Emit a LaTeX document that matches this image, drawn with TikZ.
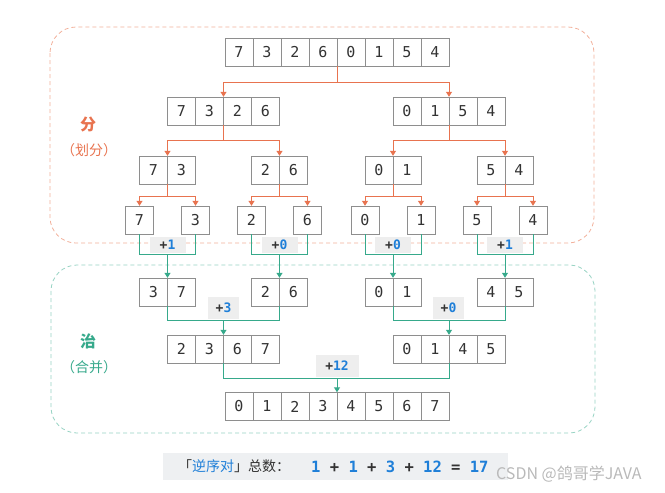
\documentclass[tikz,border=0pt]{standalone}
\usepackage{fontspec}
\setmonofont{DejaVu Sans Mono}
\newfontfamily\cjk{Noto Sans CJK SC}
\usetikzlibrary{arrows.meta,calc}
\definecolor{orgline}{HTML}{E8734F}
\definecolor{orgbox}{HTML}{F2B09A}
\definecolor{grnline}{HTML}{36A98B}
\definecolor{grnbox}{HTML}{97D3C3}
\definecolor{cellgray}{HTML}{8E8E8E}
\definecolor{numblue}{HTML}{1F7FD8}
\definecolor{labelbg}{HTML}{EEEEEE}
\definecolor{sumbg}{HTML}{EEF0F2}
\definecolor{txtdark}{HTML}{333333}
\tikzset{
  cell/.style={draw=cellgray, line width=0.9pt, fill=white, minimum width=28pt, minimum height=28pt, inner sep=0pt, font=\fontsize{15}{15}\selectfont\ttfamily, text=txtdark},
  outline/.style={inner sep=0pt, minimum height=28pt},
  sp/.style={draw=orgline, line width=1pt},
  spa/.style={sp, -{Triangle[length=5pt,width=6pt]}},
  mg/.style={draw=grnline, line width=1pt},
  mga/.style={mg, -{Triangle[length=5pt,width=6pt]}},
  cnt/.style={fill=labelbg, inner sep=0pt, minimum width=36pt, minimum height=16pt, font=\fontsize{13}{13}\selectfont\ttfamily\bfseries, text=txtdark},
  region/.style={dash pattern=on 4pt off 3pt, line width=0.8pt, rounded corners=26pt},
}
\newcommand\myarr[5]{%
  \node[outline, minimum width=#4*28pt] (#1) at (#2,#3) {};
  \foreach \d [count=\i] in {#5} {
    \node[cell] (#1-\i) at ({#2+(\i-0.5-#4/2)*28},#3) {\d};
  }%
}
\begin{document}
\begin{tikzpicture}[x=1pt,y=-1pt]
\useasboundingbox (0,0) rectangle (665,493);
% regions
\draw[region, draw=orgbox] (50,27) rectangle (594,243);
\draw[region, draw=grnbox] (51,265) rectangle (595,433);
% labels left
\node[text=orgline, font=\cjk\bfseries\fontsize{16}{16}\selectfont] (fen) at (88,124) {分};
\node[text=orgline, font=\cjk\fontsize{14}{14}\selectfont] (huafen) at (89,150) {（划分）};
\node[text=grnline, font=\cjk\bfseries\fontsize{16}{16}\selectfont] (zhi) at (88,341) {治};
\node[text=grnline, font=\cjk\fontsize{14}{14}\selectfont] (hebing) at (89,367) {（合并）};
% arrays
\myarr{T}{337}{52}{8}{7,3,2,6,0,1,5,4}
\myarr{L2a}{223.5}{111}{4}{7,3,2,6}
\myarr{L2b}{449}{111}{4}{0,1,5,4}
\myarr{L3a}{167.5}{170}{2}{7,3}
\myarr{L3b}{279.5}{170}{2}{2,6}
\myarr{L3c}{393}{170}{2}{0,1}
\myarr{L3d}{505}{170}{2}{5,4}
\myarr{L4a}{139.5}{220}{1}{7}
\myarr{L4b}{195.5}{220}{1}{3}
\myarr{L4c}{251.5}{220}{1}{2}
\myarr{L4d}{307.5}{220}{1}{6}
\myarr{L4e}{365}{220}{1}{0}
\myarr{L4f}{421}{220}{1}{1}
\myarr{L4g}{477}{220}{1}{5}
\myarr{L4h}{533}{220}{1}{4}
\myarr{L5a}{167.5}{292}{2}{3,7}
\myarr{L5b}{279.5}{292}{2}{2,6}
\myarr{L5c}{393}{292}{2}{0,1}
\myarr{L5d}{505}{292}{2}{4,5}
\myarr{L6a}{223.5}{349}{4}{2,3,6,7}
\myarr{L6b}{449}{349}{4}{0,1,4,5}
\myarr{L7}{337}{406.5}{8}{0,1,2,3,4,5,6,7}
% split connectors
\draw[spa] (T.south) -- ++(0,16) -| (L2a.north);
\draw[spa] (T.south) -- ++(0,16) -| (L2b.north);
\draw[spa] (L2a.south) -- ++(0,15) -| (L3a.north);
\draw[spa] (L2a.south) -- ++(0,15) -| (L3b.north);
\draw[spa] (L2b.south) -- ++(0,15) -| (L3c.north);
\draw[spa] (L2b.south) -- ++(0,15) -| (L3d.north);
\draw[spa] (L3a.south) -- ++(0,12) -| (L4a.north);
\draw[spa] (L3a.south) -- ++(0,12) -| (L4b.north);
\draw[spa] (L3b.south) -- ++(0,12) -| (L4c.north);
\draw[spa] (L3b.south) -- ++(0,12) -| (L4d.north);
\draw[spa] (L3c.south) -- ++(0,12) -| (L4e.north);
\draw[spa] (L3c.south) -- ++(0,12) -| (L4f.north);
\draw[spa] (L3d.south) -- ++(0,12) -| (L4g.north);
\draw[spa] (L3d.south) -- ++(0,12) -| (L4h.north);
% merge connectors
\path (L5a.north) ++(0,-23) coordinate (j1);
\path (L5b.north) ++(0,-23) coordinate (j2);
\path (L5c.north) ++(0,-23) coordinate (j3);
\path (L5d.north) ++(0,-23) coordinate (j4);
\draw[mg] (L4a.south) |- (j1) -| (L4b.south);
\draw[mg] (L4c.south) |- (j2) -| (L4d.south);
\draw[mg] (L4e.south) |- (j3) -| (L4f.south);
\draw[mg] (L4g.south) |- (j4) -| (L4h.south);
\draw[mga] (j1) -- (L5a.north);
\draw[mga] (j2) -- (L5b.north);
\draw[mga] (j3) -- (L5c.north);
\draw[mga] (j4) -- (L5d.north);
\path (L6a.north) ++(0,-14) coordinate (k1);
\path (L6b.north) ++(0,-14) coordinate (k2);
\draw[mg] (L5a.south) |- (k1) -| (L5b.south);
\draw[mg] (L5c.south) |- (k2) -| (L5d.south);
\draw[mga] (k1) -- (L6a.north);
\draw[mga] (k2) -- (L6b.north);
\path (L7.north) ++(0,-14) coordinate (m1);
\draw[mg] (L6a.south) |- (m1) -| (L6b.south);
\draw[mga] (m1) -- (L7.north);
% count labels
\node[cnt] (c1) at (167.5,244.5) {+\textcolor{numblue}{1}};
\node[cnt] (c2) at (279.5,244.5) {+\textcolor{numblue}{0}};
\node[cnt] (c3) at (393,244.5) {+\textcolor{numblue}{0}};
\node[cnt] (c4) at (505,244.5) {+\textcolor{numblue}{1}};
\node[cnt, minimum height=22pt, minimum width=31pt] (c5) at (223.5,308) {+\textcolor{numblue}{3}};
\node[cnt, minimum height=22pt, minimum width=31pt] (c6) at (448.5,308) {+\textcolor{numblue}{0}};
\node[cnt, minimum height=22pt, minimum width=43pt] (c7) at (337,366) {+\textcolor{numblue}{12}};
% summary
\node[fill=sumbg, inner sep=0pt, minimum width=345pt, minimum height=27pt] (sumbox) at (335.5,466.5) {};
\node[anchor=west, inner sep=0pt, font=\cjk\fontsize{14}{14}\selectfont, text=txtdark] (sumlbl) at (178,466.5) {「\textcolor{numblue}{逆序对}」总数：};
\node[anchor=west, inner sep=0pt, font=\ttfamily\bfseries\fontsize{15.5}{15.5}\selectfont, text=txtdark] (sumval) at (311,466.5) {\textcolor{numblue}{1} + \textcolor{numblue}{1} + \textcolor{numblue}{3} + \textcolor{numblue}{12} = \textcolor{numblue}{17}};
\node[anchor=west, inner sep=0pt, font=\cjk\fontsize{16}{16}\selectfont, text=gray!55] (wm) at (496,474) {CSDN @鸽哥学JAVA};
\end{tikzpicture}
\end{document}
